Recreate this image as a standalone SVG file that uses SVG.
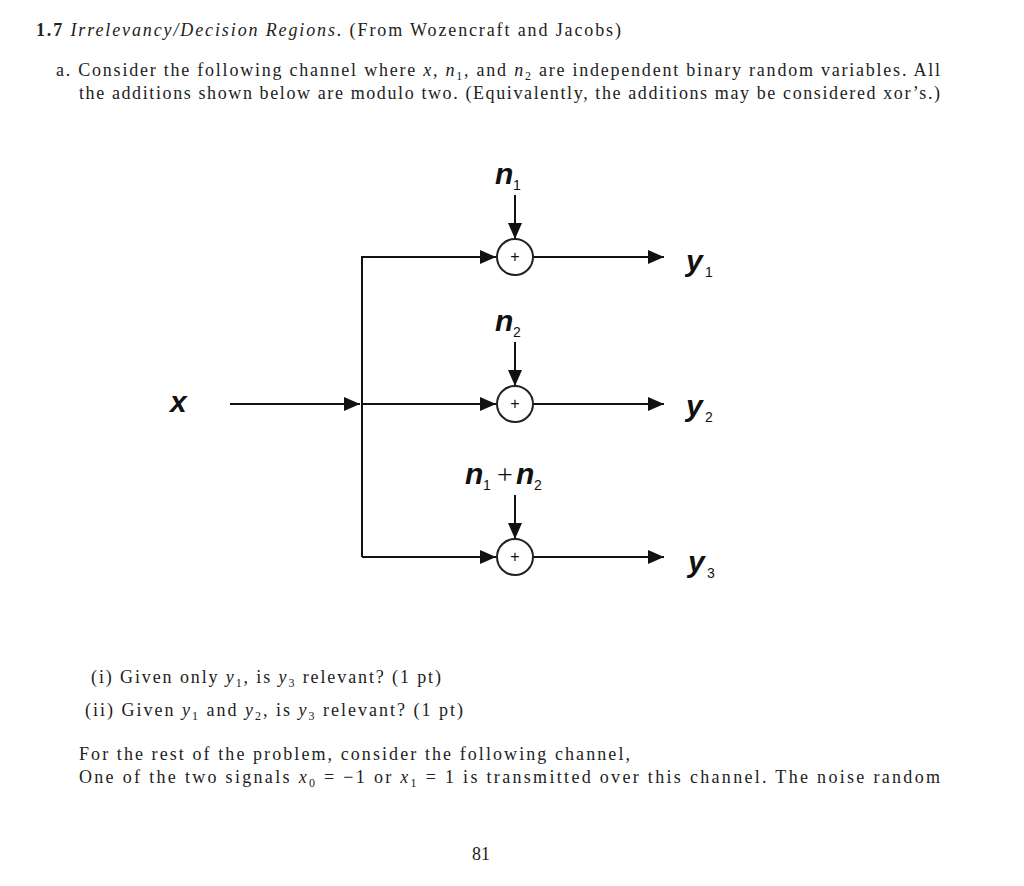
<svg xmlns="http://www.w3.org/2000/svg" width="1024" height="886" viewBox="0 0 1024 886">
<style>
.t{font-family:"Liberation Serif",serif;font-size:18px;fill:#222}
.m{font-family:"Liberation Serif",serif;font-style:italic}
.v{font-family:"Liberation Sans",sans-serif;font-weight:bold;font-style:italic;font-size:30px;fill:#111}
.s{font-family:"Liberation Sans",sans-serif;font-size:14px;fill:#111}
.w{stroke:#111;stroke-width:2;fill:none}
.c{stroke:#222;stroke-width:2;fill:#fff}
.p{font-family:"Liberation Sans",sans-serif;font-size:16px;fill:#111;text-anchor:middle}
</style>
<defs>
<marker id="b" markerWidth="16" markerHeight="14" refX="16" refY="7" orient="auto" markerUnits="userSpaceOnUse" viewBox="0 0 16 14"><path d="M0,0L16,7L0,14z" fill="#111"/></marker></defs>
<rect width="1024" height="886" fill="#fff"/>
<text class="t" x="36" y="36" textLength="585" lengthAdjust="spacing"><tspan font-weight="bold">1.7</tspan> <tspan font-style="italic">Irrelevancy/Decision Regions.</tspan> (From Wozencraft and Jacobs)</text>
<text class="t" x="56" y="76" textLength="884" lengthAdjust="spacing">a. Consider the following channel where <tspan class="m">x</tspan>, <tspan class="m">n</tspan><tspan font-size="12" dy="4">1</tspan><tspan dy="-4">, and </tspan><tspan class="m">n</tspan><tspan font-size="12" dy="4">2</tspan><tspan dy="-4"> are independent binary random variables. All</tspan></text>
<text class="t" x="79" y="99" textLength="861" lengthAdjust="spacing">the additions shown below are modulo two. (Equivalently, the additions may be considered xor’s.)</text>
<g id="connectors">
<path class="w" d="M230,404H360" marker-end="url(#b)"/>
<path class="w" d="M362,557V257H496" marker-end="url(#b)"/>
<path class="w" d="M362,404H496" marker-end="url(#b)"/>
<path class="w" d="M362,557H496" marker-end="url(#b)"/>
<path class="w" d="M533,257H664" marker-end="url(#b)"/>
<path class="w" d="M533,404H664" marker-end="url(#b)"/>
<path class="w" d="M533,557H664" marker-end="url(#b)"/>
<path class="w" d="M515,195V239" marker-end="url(#b)"/>
<path class="w" d="M515,342V386" marker-end="url(#b)"/>
<path class="w" d="M515,495V539" marker-end="url(#b)"/>
</g>
<g id="sum1"><circle class="c" cx="515" cy="257" r="18"/><text class="p" x="515" y="262">+</text></g>
<g id="sum2"><circle class="c" cx="515" cy="404" r="18"/><text class="p" x="515" y="409">+</text></g>
<g id="sum3"><circle class="c" cx="515" cy="557" r="18"/><text class="p" x="515" y="562">+</text></g>
<g id="x"><text class="v" x="170" y="412">x</text></g>
<g id="n1"><text class="v" x="495" y="184">n</text><text class="s" x="513" y="190">1</text></g>
<g id="n2"><text class="v" x="495" y="331">n</text><text class="s" x="513" y="337">2</text></g>
<g id="n12"><text class="v" x="465" y="484">n</text><text class="s" x="483" y="490">1</text><text x="497" y="484" style="font-family:'Liberation Serif',serif;font-size:28px;fill:#111">+</text><text class="v" x="516" y="484">n</text><text class="s" x="534" y="490">2</text></g>
<g id="y1"><text class="v" x="686" y="271">y</text><text class="s" x="705" y="277">1</text></g>
<g id="y2"><text class="v" x="686" y="416">y</text><text class="s" x="705" y="422">2</text></g>
<g id="y3"><text class="v" x="688" y="572">y</text><text class="s" x="707" y="578">3</text></g>
<text class="t" x="91" y="683" textLength="350" lengthAdjust="spacing">(i) Given only <tspan class="m">y</tspan><tspan font-size="12" dy="4">1</tspan><tspan dy="-4">, is </tspan><tspan class="m">y</tspan><tspan font-size="12" dy="4">3</tspan><tspan dy="-4"> relevant? (1 pt)</tspan></text>
<text class="t" x="85" y="716" textLength="378" lengthAdjust="spacing">(ii) Given <tspan class="m">y</tspan><tspan font-size="12" dy="4">1</tspan><tspan dy="-4"> and </tspan><tspan class="m">y</tspan><tspan font-size="12" dy="4">2</tspan><tspan dy="-4">, is </tspan><tspan class="m">y</tspan><tspan font-size="12" dy="4">3</tspan><tspan dy="-4"> relevant? (1 pt)</tspan></text>
<text class="t" x="79" y="760" textLength="551" lengthAdjust="spacing">For the rest of the problem, consider the following channel,</text>
<text class="t" x="79" y="783" textLength="861" lengthAdjust="spacing">One of the two signals <tspan class="m">x</tspan><tspan font-size="12" dy="4">0</tspan><tspan dy="-4"> = −1 or </tspan><tspan class="m">x</tspan><tspan font-size="12" dy="4">1</tspan><tspan dy="-4"> = 1 is transmitted over this channel.  The noise random</tspan></text>
<text class="t" x="472" y="860">81</text>
</svg>
